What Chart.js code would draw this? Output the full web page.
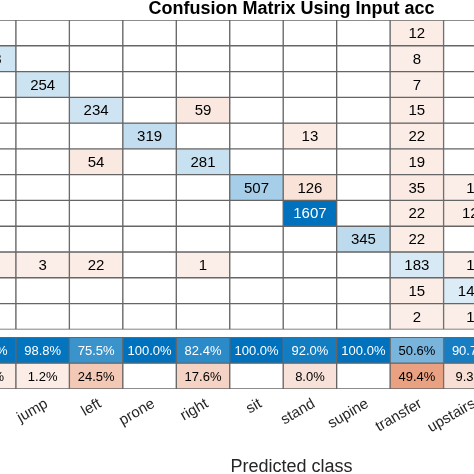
<!DOCTYPE html>
<html>
<head>
<meta charset="utf-8">
<script src="https://cdn.jsdelivr.net/npm/chart.js@4.4.1/dist/chart.umd.min.js"></script>
<style>
  html, body { margin: 0; padding: 0; background: #fff; }
  #frame { position: relative; width: 474px; height: 474px; overflow: hidden; }
  #cm { position: absolute; left: -211px; top: 0; }
</style>
</head>
<body>
<div id="frame"><canvas id="cm" width="900" height="480"></canvas></div>
<script>
const classes = ["bend", "downstairs", "jump", "left", "prone", "right", "sit", "stand", "supine", "transfer", "upstairs", "walk"];

// rows = true class, columns = predicted class
const counts = [
  [268, 0, 0, 0, 0, 0, 0, 0, 0, 12, 0, 0],
  [0, 233, 0, 0, 0, 0, 0, 0, 0, 8, 0, 0],
  [0, 0, 254, 0, 0, 0, 0, 0, 0, 7, 0, 0],
  [0, 0, 0, 234, 0, 59, 0, 0, 0, 15, 0, 0],
  [0, 0, 0, 0, 319, 0, 0, 13, 0, 22, 0, 0],
  [0, 0, 0, 54, 0, 281, 0, 0, 0, 19, 0, 0],
  [0, 0, 0, 0, 0, 0, 507, 126, 0, 35, 1, 0],
  [0, 0, 0, 0, 0, 0, 0, 1607, 0, 22, 12, 0],
  [0, 0, 0, 0, 0, 0, 0, 0, 345, 22, 0, 0],
  [0, 4, 3, 22, 0, 1, 0, 0, 0, 183, 1, 0],
  [0, 0, 0, 0, 0, 0, 0, 0, 0, 15, 146, 0],
  [0, 0, 0, 0, 0, 0, 0, 0, 0, 2, 1, 612]
];

const FONT = '"Liberation Sans", Arial, Helvetica, sans-serif';
const DIAG_RGB = [0, 114, 189];
const OFF_RGB = [217, 83, 25];
const GRID = "#666666";
const GAP = 0.31;          // space between matrix and summaries, in cells
const n = classes.length;
const maxCount = Math.max(...counts.flat());

// shade strength 0..1 of a cell
function shade(p) {
  if (!p.v) return 0;
  if (p.kind === "diag") return 0.05 + 0.95 * p.v / maxCount;
  if (p.kind === "off") return 0.1 + 0.9 * p.v / maxCount;
  if (p.kind === "good") return 0.05 + 0.95 * p.v / 100;
  return 0.1 + 0.9 * p.v / 100;
}

function cellColor(p) {
  const base = (p.kind === "diag" || p.kind === "good") ? DIAG_RGB : OFF_RGB;
  const t = shade(p);
  return "rgb(" + base.map(ch => Math.round(255 + (ch - 255) * t)).join(",") + ")";
}

function cellLabel(p) {
  if (!p.v) return "";
  if (p.kind === "diag" || p.kind === "off") return String(p.v);
  return p.v.toFixed(1) + "%";
}

function makeDataset(label, data) {
  return {
    label: label,
    data: data,
    backgroundColor: data.map(cellColor),
    borderColor: GRID,
    borderWidth: 1,
    borderSkipped: false
  };
}

// one dataset per true-class row, then precision / false discovery rows
const datasets = [];
counts.forEach((row, r) => {
  const data = row.map((v, c) => ({ x: c, y: [r - 0.5, r + 0.5], v: v, kind: r === c ? "diag" : "off" }));
  const total = row.reduce((a, b) => a + b, 0);
  const recall = 100 * row[r] / total;
  data.push({ x: n + GAP, y: [r - 0.5, r + 0.5], v: recall, kind: "good" });
  data.push({ x: n + GAP + 1, y: [r - 0.5, r + 0.5], v: 100 - recall, kind: "bad" });
  datasets.push(makeDataset(classes[r], data));
});

const precision = [], fdr = [];
classes.forEach((_, c) => {
  const colTotal = counts.reduce((a, row) => a + row[c], 0);
  const p = 100 * counts[c][c] / colTotal;
  precision.push({ x: c, y: [n + GAP - 0.5, n + GAP + 0.5], v: p, kind: "good" });
  fdr.push({ x: c, y: [n + GAP + 0.5, n + GAP + 1.5], v: 100 - p, kind: "bad" });
});
datasets.push(makeDataset("precision", precision));
datasets.push(makeDataset("false discovery rate", fdr));

const cellText = {
  id: "cellText",
  afterDatasetsDraw(chart) {
    const ctx = chart.ctx;
    const area = chart.chartArea;
    ctx.save();
    ctx.beginPath();
    ctx.rect(area.left, area.top, area.right - area.left, area.bottom - area.top);
    ctx.clip();
    ctx.textAlign = "center";
    ctx.textBaseline = "middle";
    chart.data.datasets.forEach((ds, i) => {
      chart.getDatasetMeta(i).data.forEach((bar, j) => {
        const p = ds.data[j];
        const txt = cellLabel(p);
        if (!txt) return;
        const pct = p.kind === "good" || p.kind === "bad";
        ctx.font = (pct ? "13px " : "15px ") + FONT;
        ctx.fillStyle = shade(p) > 0.6 ? "#ffffff" : "#000000";
        ctx.fillText(txt, bar.x, (bar.y + bar.base) / 2 + 1);
      });
    });
    ctx.restore();
  }
};

Chart.defaults.font.family = FONT;

new Chart(document.getElementById("cm"), {
  type: "bar",
  data: { datasets: datasets },
  options: {
    responsive: false,
    animation: false,
    devicePixelRatio: 1,
    layout: { padding: { left: 0, right: 15, top: 0, bottom: 0 } },
    datasets: {
      bar: { grouped: false, barPercentage: 1, categoryPercentage: 1 }
    },
    scales: {
      x: {
        type: "linear",
        min: -0.5,
        max: n + GAP + 1.5,
        offset: false,
        grid: { display: false },
        border: { display: false },
        afterBuildTicks: s => { s.ticks = classes.map((_, i) => ({ value: i })); },
        afterFit: s => { s.height = 91.1; s.paddingLeft = 0; s.paddingRight = 0; },
        ticks: {
          autoSkip: false,
          minRotation: 30,
          maxRotation: 30,
          padding: -2,
          labelOffset: 4,
          color: "#262626",
          font: { size: 15 },
          callback: v => classes[v]
        },
        title: {
          display: true,
          text: "Predicted class",
          color: "#262626",
          font: { size: 18 },
          padding: { top: 0, bottom: 2.5 }
        }
      },
      y: {
        type: "linear",
        reverse: true,
        min: -0.5,
        max: n + GAP + 1.5,
        offset: false,
        grid: { display: false },
        border: { display: false },
        afterBuildTicks: s => { s.ticks = classes.map((_, i) => ({ value: i })); },
        afterFit: s => { s.width = 120; s.paddingTop = 0; s.paddingBottom = 0; },
        ticks: {
          autoSkip: false,
          color: "#262626",
          font: { size: 15 },
          callback: v => classes[v]
        },
        title: {
          display: true,
          text: "True class",
          color: "#262626",
          font: { size: 18 }
        }
      }
    },
    plugins: {
      colors: { enabled: false },
      legend: { display: false },
      tooltip: { enabled: false },
      title: {
        display: true,
        fullSize: false,
        text: "Confusion Matrix Using Input acc",
        color: "#000000",
        font: { size: 18, weight: "bold", lineHeight: 1 },
        padding: { top: 0, bottom: 2 }
      }
    }
  },
  plugins: [cellText]
});
</script>
</body>
</html>
